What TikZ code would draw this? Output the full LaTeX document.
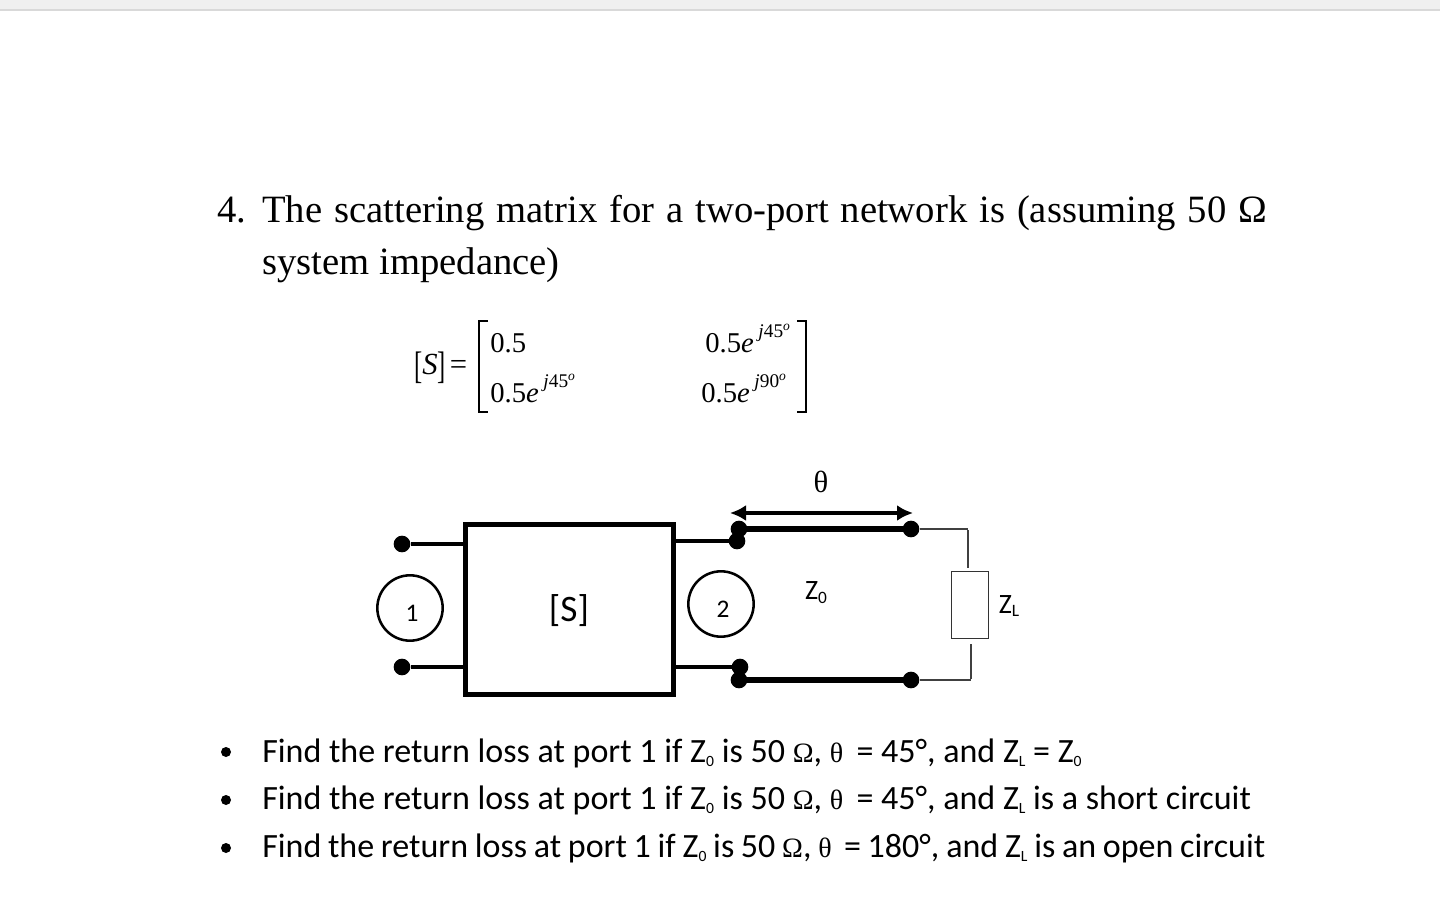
\documentclass[tikz,border=0pt]{standalone}
\usepackage{fontspec}
\setmainfont{Liberation Serif}
\setsansfont{Carlito}
\usetikzlibrary{
  positioning,
  arrows.meta,
  calc
}
\newcommand{\lowsub}[1]{\raisebox{-0.14em}{\scalebox{0.46}{#1}}}
\newcommand{\tagsub}[1]{\raisebox{-0.14em}{\scalebox{0.62}{#1}}}
\newcommand{\grk}[1]{{\rmfamily\fontsize{21}{21}\selectfont #1}}
\newcommand{\expo}[1]{\raisebox{0.55em}{\fontsize{14.5}{14.5}\selectfont\kern3.5pt\textit{j}#1\textit{\textsuperscript{o}}}}
\newcommand{\tallbr}[1]{\raisebox{-0.12em}{\scalebox{0.8}[1.25]{#1}}}

\begin{document}
\begin{tikzpicture}[
  x=0.75pt, y=-0.75pt,
  heading/.style={anchor=base west, inner sep=0, font=\rmfamily\fontsize{29}{29}\selectfont},
  item/.style={anchor=base west, inner sep=0, font=\sffamily\fontsize{25.5}{25.5}\selectfont},
  entry/.style={anchor=base west, inner sep=0, font=\rmfamily\fontsize{21.5}{21.5}\selectfont},
  tag/.style={inner sep=0, font=\sffamily\fontsize{19}{19}\selectfont},
  dot/.style={circle, fill=black, inner sep=0, minimum size=12.5pt},
  bullet/.style={circle, fill=black, inner sep=0, minimum size=7.5pt},
  port/.style={draw, circle, line width=1.9pt, inner sep=0, minimum size=49pt},
  lead/.style={line width=3pt},
  line/.style={line width=4.5pt},
  wire/.style={line width=1.1pt, black!75},
  span/.style={line width=3pt, {Latex[length=12pt,width=12pt]}-{Latex[length=12pt,width=12pt]}},
  bracket/.style={line width=1.2pt}
]
\useasboundingbox (0,0) rectangle (1440,916);
\fill[white] (0,0) rectangle (1440,916);
\fill[black!6] (0,0) rectangle (1440,10);
\draw[black!15, line width=0.8pt] (0,10) -- (1440,10);

% Question
\node[heading] (qnum) at (217,223) {4.};
\node[heading] (q1) at (262,223) {\makebox[753.75pt][s]{The scattering matrix for a two-port network is (assuming 50 Ω}};
\node[heading] (q2) at (262,275) {system impedance)};

% Matrix
\node[anchor=base west, inner sep=0, font=\rmfamily\fontsize{23}{23}\selectfont] (slabel) at (414,375) {\tallbr{[}\textit{S}\tallbr{]}\kern3pt=};
\node[entry] (s11) at (490,353) {0.5};
\node[entry] (s12) at (705,353) {0.5\textit{e}\expo{45}};
\node[entry] (s21) at (490,403) {0.5\textit{e}\expo{45}};
\node[entry] (s22) at (701,403) {0.5\textit{e}\expo{90}};
\draw[bracket] (488,321) -- (479,321) -- (479,412) -- (488,412);
\draw[bracket] (797,321) -- (806,321) -- (806,412) -- (797,412);

% Network
\node[draw, line width=3.7pt, minimum width=156pt, minimum height=127.5pt, inner sep=0, outer sep=0] (sbox) at (569.5,609.5) {};
\node[tag, font=\sffamily\fontsize{28}{28}\selectfont] (slab) at (569,611) {[S]};
\node[port] (p1) at (410,608) {};
\node[port] (p2) at (721,604) {};
\node[tag] (n1) at (412,613) {1};
\node[tag] (n2) at (723,609) {2};

% Terminals
\node[dot] (a1) at (402,544) {};
\node[dot] (a2) at (402,667) {};
\node[dot] (b1) at (737,541) {};
\node[dot] (b2) at (740,667) {};
\node[dot] (c1) at (739,529) {};
\node[dot] (c2) at (739,680) {};
\node[dot] (d1) at (911,529) {};
\node[dot] (d2) at (911,680) {};

\coordinate (a1end) at (465,544);
\coordinate (a2end) at (465,667);
\coordinate (b1end) at (674,541);
\coordinate (b2end) at (674,667);
\draw[lead] (a1) -- (a1end);
\draw[lead] (a2) -- (a2end);
\draw[lead] (b1end) -- (b1.center);
\draw[lead] (b2end) -- (b2.center);
\draw[line] (c1.center) -- (d1.center);
\draw[line] (c2.center) -- (d2.center);

% Length
\coordinate (spanl) at (730,513);
\coordinate (spanr) at (913,513);
\draw[span] (spanl) -- (spanr);
\node[font=\rmfamily\fontsize{23}{23}\selectfont, inner sep=0] (theta) at (821,482) {θ};
\node[tag, font=\sffamily\fontsize{21}{21}\selectfont] (z0) at (816,593) {Z\tagsub{0}};

% Load
\node[draw, line width=1.1pt, black!80, minimum width=28pt, minimum height=50.5pt, inner sep=0] (zl) at (970,605) {};
\node[tag, font=\sffamily\fontsize{21}{21}\selectfont] (zltext) at (1009,606) {Z\tagsub{L}};
\coordinate (topc) at (968,527);
\coordinate (topg) at (968,568);
\coordinate (botc) at (971,679);
\coordinate (botg) at (971,644);
\draw[wire] (d1.east) -- (d1.east -| topc);
\draw[wire] ($(topc)+(0,3)$) -- (topg);
\draw[wire] (d2.east) -- (d2.east -| botc);
\draw[wire] (botc) -- (botg);

% Questions
\node[bullet] (b1dot) at (226,752) {};
\node[bullet] (b2dot) at (226,800) {};
\node[bullet] (b3dot) at (226,848) {};
\node[item] (i1) at (262,762) {Find the return loss at port 1 if Z\lowsub{0} is 50 \grk{Ω}, \grk{θ} \,= 45°, and Z\lowsub{L} = Z\lowsub{0}};
\node[item] (i2) at (262,809) {Find the return loss at port 1 if Z\lowsub{0} is 50 \grk{Ω}, \grk{θ} \,= 45°, and Z\lowsub{L} is a short circuit};
\node[item] (i3) at (262,857) {\makebox[752.25pt][s]{Find the return loss at port 1 if Z\lowsub{0} is 50 \grk{Ω}, \grk{θ} \,= 180°, and Z\lowsub{L} is an open circuit}};
\end{tikzpicture}
\end{document}
